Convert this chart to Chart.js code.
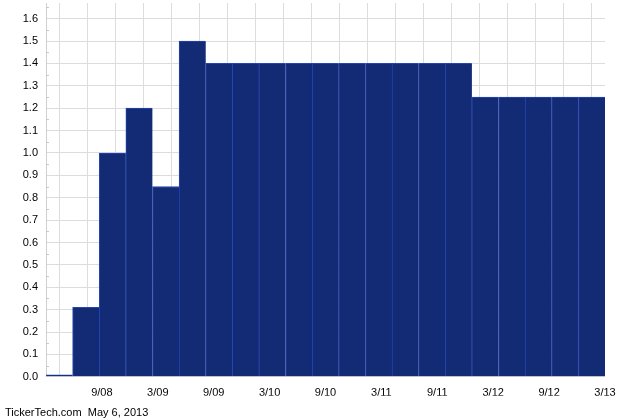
<!DOCTYPE html>
<html><head><meta charset="utf-8">
<script src="https://cdn.jsdelivr.net/npm/chart.js@4.4.1/dist/chart.umd.min.js"></script>
<style>html,body{margin:0;padding:0;background:#fff}#wrap{width:640px;height:420px;position:relative}</style>
</head><body><div id="wrap"><canvas id="c"></canvas></div>
<script>
const barLabels = ['P1','P2','P3','P4','P5','P6','P7','P8','P9','P10','P11','P12','P13','P14','P15','P16','P17','P18','P19','P20','P21'];
const barValues = [0, 0.31, 1.0, 1.2, 0.85, 1.5, 1.4, 1.4, 1.4, 1.4, 1.4, 1.4, 1.4, 1.4, 1.4, 1.4, 1.25, 1.25, 1.25, 1.25, 1.25];
const quarterTicks = ['3/08','6/08','9/08','12/08','3/09','6/09','9/09','12/09','3/10','6/10','9/10','12/10','3/11','6/11','9/11','12/11','3/12','6/12','9/12','12/12','3/13'];
const shownTicks = ['9/08','3/09','9/09','3/10','9/10','3/11','9/11','3/12','9/12','3/13'];
const yMax = 1.67;
const footerText = 'TickerTech.com  May 6, 2013';

const FONT = 'Liberation Sans, Arial, sans-serif';

const minorTicks = {
  id: 'minorTicks',
  beforeDatasetsDraw(chart) {
    const y = chart.scales.y, ctx = chart.ctx, left = chart.chartArea.left;
    ctx.save();
    ctx.strokeStyle = '#c8c8c8';
    ctx.lineWidth = 1;
    for (let v = 0.05; v < yMax; v += 0.1) {
      const py = Math.round(y.getPixelForValue(v)) + 0.5;
      ctx.beginPath();
      ctx.moveTo(left, py);
      ctx.lineTo(left + 3, py);
      ctx.stroke();
    }
    ctx.restore();
  }
};

new Chart(document.getElementById('c'), {
  type: 'bar',
  data: {
    labels: barLabels,
    datasets: [{
      data: barValues,
      xAxisID: 'x',
      backgroundColor: '#132a74',
      borderColor: '#2445b5',
      borderWidth: {left: 1, top: 1, right: 0, bottom: 0},
      borderSkipped: false,
      barPercentage: 1,
      categoryPercentage: 1,
      minBarLength: 2
    }]
  },
  options: {
    responsive: true,
    maintainAspectRatio: false,
    animation: false,
    layout: {padding: {left: 5, right: 35, top: 3, bottom: 0}},
    plugins: {
      legend: {display: false},
      tooltip: {enabled: false},
      title: {
        display: true,
        position: 'bottom',
        align: 'start',
        text: footerText,
        color: '#000',
        font: {family: FONT, size: 11, weight: 'normal'},
        padding: {top: 11, bottom: 0}
      }
    },
    scales: {
      x: {
        type: 'category',
        display: false,
        offset: true,
        grid: {display: false}
      },
      x2: {
        type: 'category',
        position: 'bottom',
        labels: quarterTicks,
        offset: false,
        afterFit(s) { s.height = 19; s.paddingLeft = 0; s.paddingRight = 0; },
        grid: {color: '#dcdcdc', drawTicks: false},
        border: {display: false},
        ticks: {
          autoSkip: false,
          maxRotation: 0,
          padding: 10,
          color: '#000',
          font: {family: FONT, size: 11},
          callback(v, i) {
            const lbl = quarterTicks[i];
            return shownTicks.includes(lbl) ? lbl : '';
          }
        }
      },
      y: {
        min: 0,
        max: yMax,
        afterFit(s) { s.width = 41; s.paddingTop = 0; s.paddingBottom = 0; },
        grid: {color: '#dcdcdc', drawTicks: false},
        border: {display: true, color: '#cfcfcf'},
        ticks: {
          stepSize: 0.1,
          includeBounds: false,
          padding: 8,
          color: '#000',
          font: {family: FONT, size: 11},
          callback: v => Number(v).toFixed(1)
        }
      }
    }
  },
  plugins: [minorTicks]
});
</script>
</body></html>
